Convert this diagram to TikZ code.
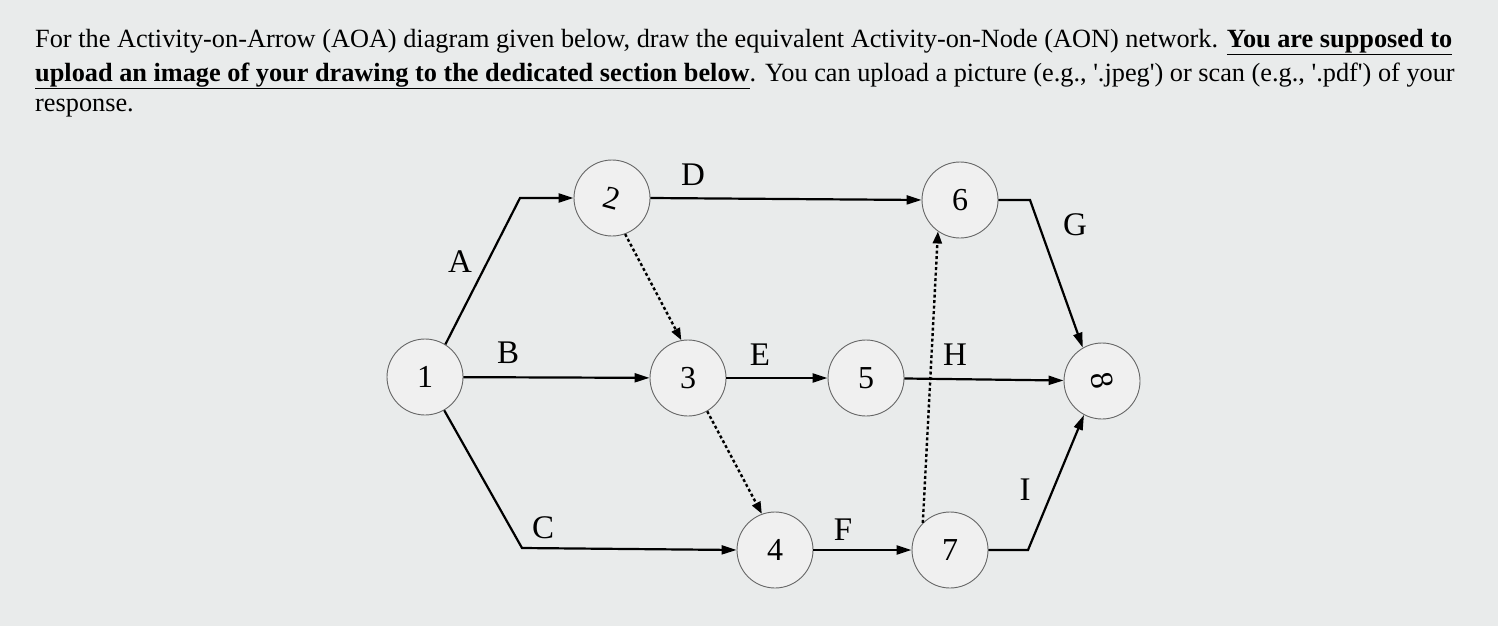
\documentclass[tikz,border=0pt]{standalone}
\usepackage{fontspec}
\setmainfont{Liberation Serif}
\usetikzlibrary{arrows.meta}
\definecolor{bg}{RGB}{233,235,235}
\definecolor{cf}{RGB}{240,240,240}
\newcommand{\sq}{\textquotesingle}
\tikzset{
 ev/.style={circle,draw=gray!120,line width=0.9pt,fill=cf,minimum size=76pt,inner sep=0pt,font=\fontsize{32}{32}\selectfont},
 act/.style={line width=2.2pt,-{Triangle[length=15pt,width=9pt]}},
 dum/.style={line width=2.4pt,dash pattern=on 3pt off 2.5pt,-{Triangle[length=12pt,width=9pt]}},
 lab/.style={font=\fontsize{33}{33}\selectfont},
 txt/.style={anchor=west,inner sep=0pt,font=\fontsize{26.3}{30}\selectfont}
}
\begin{document}
\begin{tikzpicture}[x=1pt,y=-1pt]
\fill[bg] (0,0) rectangle (1498,626);
\useasboundingbox (0,0) rectangle (1498,626);
\node[txt] (t1) at (35,42) {For the Activity-on-Arrow (AOA) diagram given below, draw the equivalent Activity-on-Node (AON) network. \textbf{\underline{You are supposed to}}};
\node[txt] (t2) at (35,76) {\textbf{\underline{upload an image of your drawing to the dedicated section below}}. You can upload a picture (e.g., \sq.jpeg\sq) or scan (e.g., \sq.pdf\sq) of your};
\node[txt] (t3) at (35,108) {response.};
\node[ev] (n1) at (425,377) {1};
\node[ev] (n2) at (612,198) {\rotatebox{-15}{2}};
\node[ev] (n3) at (688,378) {3};
\node[ev] (n4) at (775,550) {4};
\node[ev] (n5) at (866,378) {5};
\node[ev] (n6) at (960,200) {6};
\node[ev] (n7) at (950,550) {7};
\node[ev] (n8) at (1102,381) {\rotatebox{-80}{8}};
\coordinate (a1) at (520,198);
\coordinate (c1) at (522,548);
\coordinate (g1) at (1030,200);
\coordinate (i1) at (1028,550);
\draw[act] (n1.58) -- (a1) -- (n2.west);
\draw[act] (n1) -- (n3);
\draw[act] (n1.-60) -- (c1) -- (n4.west);
\draw[act] (n2.east) -- (n6.west);
\draw[act] (n3) -- (n5);
\draw[act] (n4) -- (n7);
\draw[act] (n5) -- (n8);
\draw[act] (n6.east) -- (g1) -- (n8.120);
\draw[act] (n7.east) -- (i1) -- (n8.-118);
\draw[dum] (n2.-70) -- (n3.100);
\draw[dum] (n3.-60) -- (n4.110);
\draw[dum] (n7.135) -- (n6.-125);
\node[lab] (lA) at (460,262) {A};
\node[lab] (lB) at (508,353) {B};
\node[lab] (lC) at (543,528) {C};
\node[lab] (lD) at (693,175) {D};
\node[lab] (lE) at (760,355) {E};
\node[lab] (lF) at (843,530) {F};
\node[lab] (lG) at (1075,225) {G};
\node[lab] (lH) at (955,355) {H};
\node[lab] (lI) at (1025,490) {I};
\end{tikzpicture}
\end{document}
